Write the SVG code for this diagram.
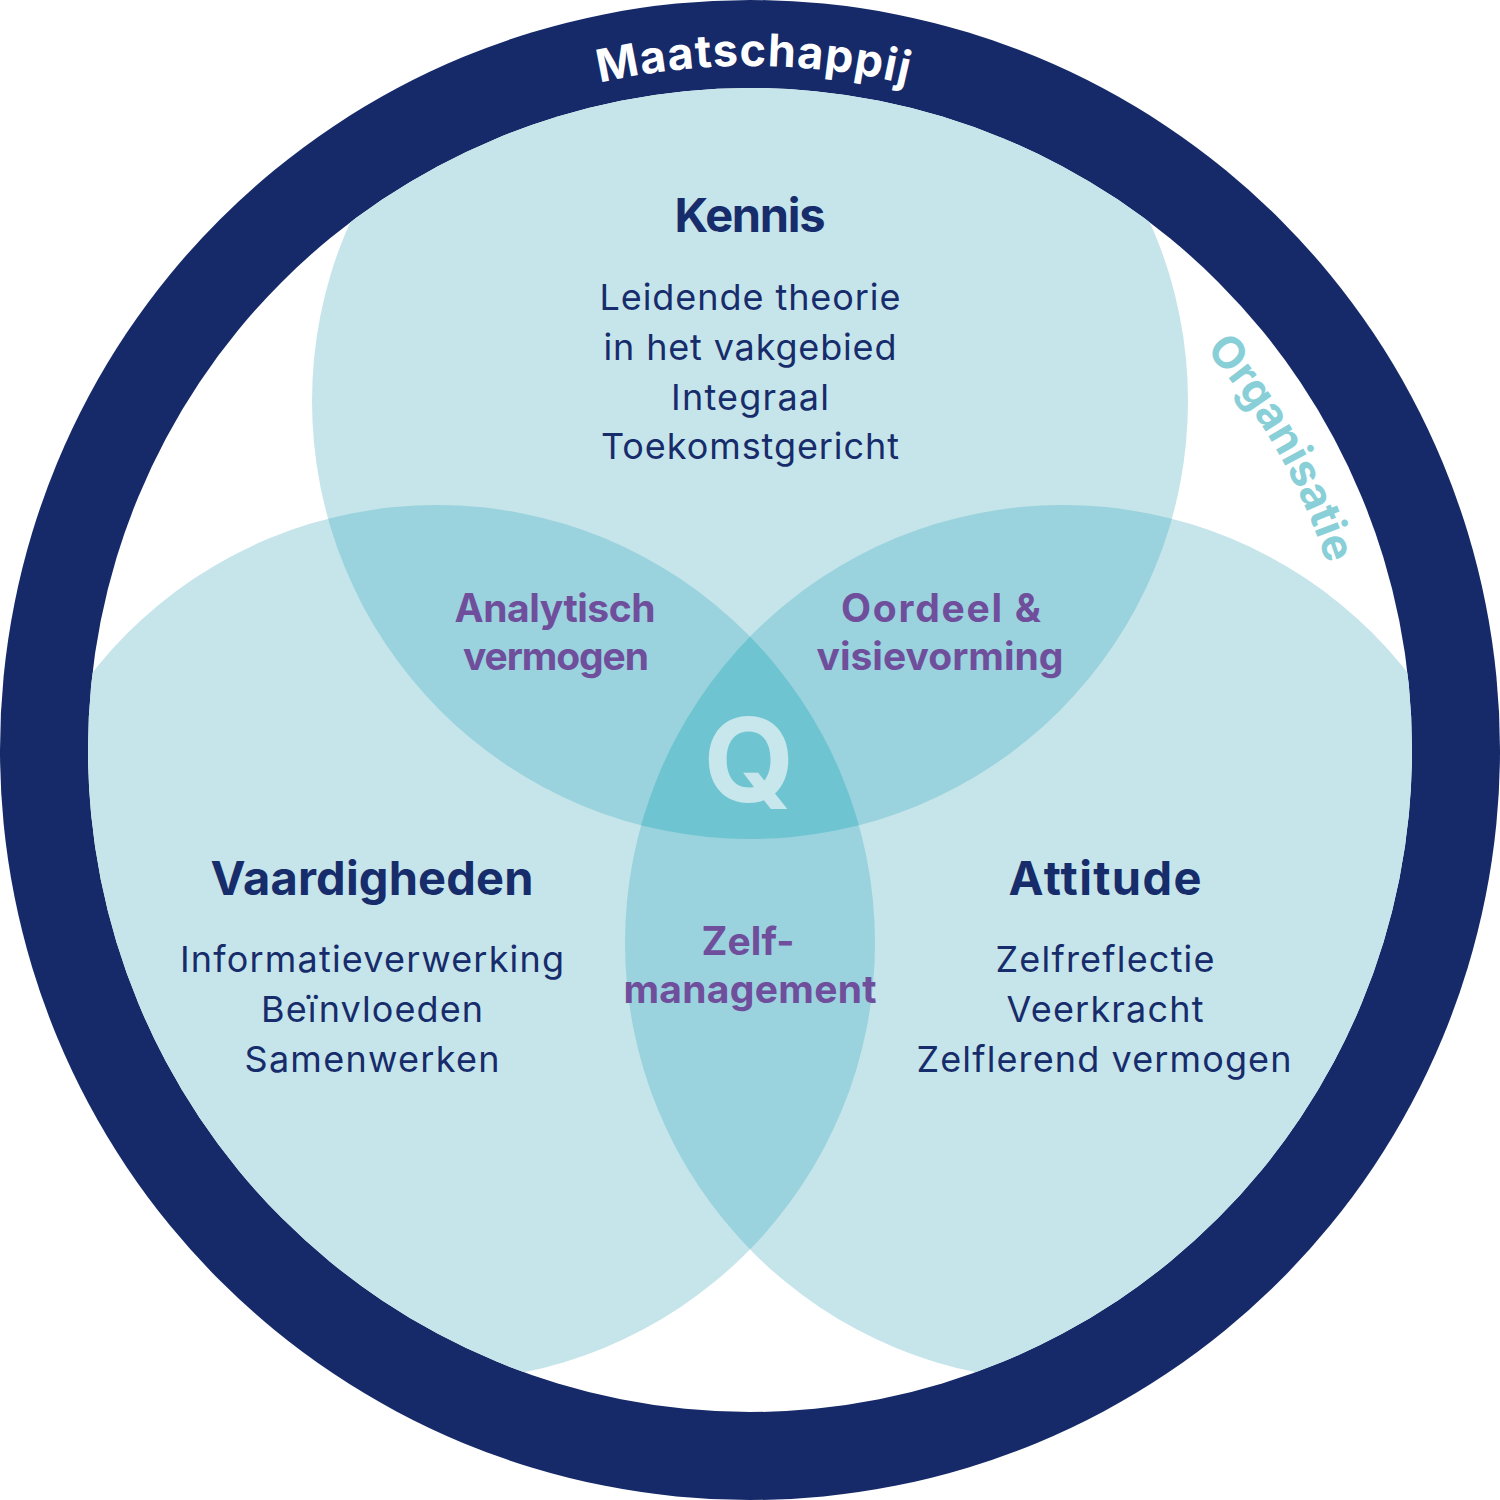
<svg xmlns="http://www.w3.org/2000/svg" width="1500" height="1500" viewBox="0 0 1500 1500">
<defs>
<style>
.t{font-family:Inter,"Noto Sans","Liberation Sans",sans-serif;text-anchor:middle}
.title{font-weight:700;font-size:47px;fill:#172c6b}
.item{font-weight:400;font-size:36px;fill:#172c6b}
.ov{font-weight:700;font-size:39px;fill:#6f4e9c}
.c1{fill:#c5e5ea}
.c2{fill:#9ad3dd}
.c3{fill:#6fc4d1}
</style>
<clipPath id="inner"><circle cx="750" cy="750" r="662"/></clipPath>
<clipPath id="cK"><circle cx="750" cy="401" r="438"/></clipPath>
<clipPath id="cV"><circle cx="437" cy="943" r="438"/></clipPath>
<clipPath id="cA"><circle cx="1063" cy="943" r="438"/></clipPath>
<path id="arcTop" d="M 66,750 A 684 684 0 0 1 1434,750"/>
<path id="arcOrg" d="M 750,144 A 606 606 0 0 1 1356,750"/>
</defs>

<g id="maatschappij">
<circle cx="750" cy="750" r="750" fill="#162a69"/>
<circle cx="750" cy="750" r="662" fill="#ffffff"/>
<text class="t" font-weight="700" font-size="45" fill="#ffffff"><textPath href="#arcTop" startOffset="50.15%" textLength="310" lengthAdjust="spacing">Maatschappij</textPath></text>
</g>

<g id="organisatie">
<text class="t" font-weight="700" font-size="44" fill="#88cfd8"><textPath href="#arcOrg" startOffset="639" textLength="248" lengthAdjust="spacing">Organisatie</textPath></text>
</g>

<g id="circles" clip-path="url(#inner)">
<g id="kennis-circle"><circle class="c1" cx="750" cy="401" r="438"/></g>
<g id="vaardigheden-circle"><circle class="c1" cx="437" cy="943" r="438"/></g>
<g id="attitude-circle"><circle class="c1" cx="1063" cy="943" r="438"/></g>
<g id="analytisch-overlap"><circle class="c2" cx="437" cy="943" r="438" clip-path="url(#cK)"/></g>
<g id="oordeel-overlap"><circle class="c2" cx="1063" cy="943" r="438" clip-path="url(#cK)"/></g>
<g id="zelf-overlap"><circle class="c2" cx="1063" cy="943" r="438" clip-path="url(#cV)"/></g>
<g id="q-overlap"><g clip-path="url(#cV)"><circle class="c3" cx="1063" cy="943" r="438" clip-path="url(#cK)"/></g></g>
</g>

<g id="connectors"></g>

<g id="kennis">
<text class="t title" x="750" y="232" textLength="151" lengthAdjust="spacing">Kennis</text>
<text class="t item" x="750" y="310" textLength="301" lengthAdjust="spacing">Leidende theorie</text>
<text class="t item" x="750" y="360" textLength="293" lengthAdjust="spacing">in het vakgebied</text>
<text class="t item" x="750" y="410" textLength="158" lengthAdjust="spacing">Integraal</text>
<text class="t item" x="750" y="459" textLength="298" lengthAdjust="spacing">Toekomstgericht</text>
</g>

<g id="vaardigheden">
<text class="t title" x="372" y="895" textLength="323" lengthAdjust="spacing">Vaardigheden</text>
<text class="t item" x="372" y="972" textLength="384" lengthAdjust="spacing">Informatieverwerking</text>
<text class="t item" x="372" y="1022" textLength="222" lengthAdjust="spacing">Beïnvloeden</text>
<text class="t item" x="372" y="1072" textLength="255" lengthAdjust="spacing">Samenwerken</text>
</g>

<g id="attitude">
<text class="t title" x="1105" y="895" textLength="193" lengthAdjust="spacing">Attitude</text>
<text class="t item" x="1105" y="972" textLength="219" lengthAdjust="spacing">Zelfreflectie</text>
<text class="t item" x="1105" y="1022" textLength="197" lengthAdjust="spacing">Veerkracht</text>
<text class="t item" x="1104" y="1072" textLength="375" lengthAdjust="spacing">Zelflerend vermogen</text>
</g>

<g id="analytisch">
<text class="t ov" x="555" y="622" textLength="201" lengthAdjust="spacing">Analytisch</text>
<text class="t ov" x="556" y="670" textLength="186" lengthAdjust="spacing">vermogen</text>
</g>

<g id="oordeel">
<text class="t ov" x="941" y="622" textLength="200" lengthAdjust="spacing">Oordeel &amp;</text>
<text class="t ov" x="940" y="670" textLength="247" lengthAdjust="spacing">visievorming</text>
</g>

<g id="zelfmanagement">
<text class="t ov" x="748" y="955" textLength="93" lengthAdjust="spacing">Zelf-</text>
<text class="t ov" x="750" y="1003" textLength="253" lengthAdjust="spacing">management</text>
</g>

<g id="q">
<text class="t" x="749" y="802" font-weight="700" font-size="117" fill="#c8e7ec">Q</text>
</g>
</svg>
